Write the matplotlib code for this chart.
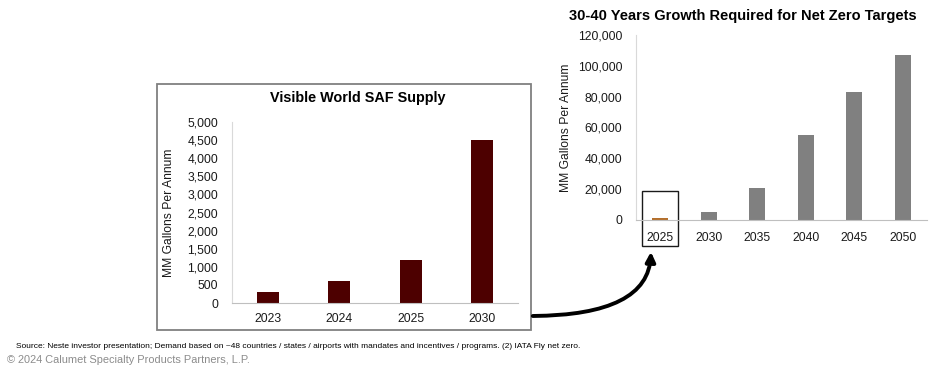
import matplotlib.pyplot as plt
from matplotlib.patches import Rectangle, FancyArrowPatch
from matplotlib.ticker import FuncFormatter
import matplotlib.transforms as mtransforms

plt.rcParams['font.family'] = ['Liberation Sans', 'DejaVu Sans']

# left chart: visible world SAF supply
supply_years = ["2023", "2024", "2025", "2030"]
supply_values = [300, 600, 1200, 4500]

# right chart: growth required for net zero
target_years = ["2025", "2030", "2035", "2040", "2045", "2050"]
target_values = [1200, 5000, 21000, 55000, 83000, 107000]
target_colors = ["#B46F2C", "#808080", "#808080", "#808080", "#808080", "#808080"]

W, H = 931, 385
fig = plt.figure(figsize=(W / 100, H / 100), dpi=100)


def px_axes(x0, y0, x1, y1):
    # pixel box (top-left origin) -> figure axes
    return fig.add_axes([x0 / W, 1 - y1 / H, (x1 - x0) / W, (y1 - y0) / H])


def style(ax, xpad):
    for s in ["top", "right"]:
        ax.spines[s].set_visible(False)
    ax.spines["left"].set_color("#D9D9D9")
    ax.spines["bottom"].set_color("#BFBFBF")
    ax.tick_params(length=0, labelsize=8.7, colors="#1a1a1a")
    ax.tick_params(axis="y", pad=10)
    ax.tick_params(axis="x", pad=xpad)
    ax.yaxis.set_major_formatter(FuncFormatter(lambda v, p: f"{int(v):,}"))


# frame around left chart
fig.patches.append(Rectangle((157 / W, 1 - 330 / H), (531 - 157) / W, (330 - 84) / H,
                             transform=fig.transFigure, fill=False,
                             edgecolor="#808080", lw=1.3))

ax1 = px_axes(232, 122, 518, 303)
ax1.bar(range(len(supply_years)), supply_values, width=0.31, color="#4D0000")
ax1.set_xticks(range(len(supply_years)), supply_years)
ax1.set_xlim(-0.5, len(supply_years) - 0.5)
ax1.set_ylim(0, 5000)
ax1.set_yticks(range(0, 5001, 500))
style(ax1, 7)
ax1.set_ylabel("MM Gallons Per Annum", fontsize=8.7, color="#1a1a1a", labelpad=9)
fig.text(358 / W, 1 - 98 / H, "Visible World SAF Supply", ha="center", va="center",
         fontsize=10.4, fontweight="bold")

ax2 = px_axes(636, 35, 927, 220)
ax2.bar(range(len(target_years)), target_values, width=0.32, color=target_colors)
ax2.set_xticks(range(len(target_years)), target_years)
ax2.set_xlim(-0.5, len(target_years) - 0.5)
ax2.set_ylim(0, 120000)
ax2.set_yticks(range(0, 120001, 20000))
style(ax2, 8.5)
ax2.set_ylabel("MM Gallons Per Annum", fontsize=8.7, color="#1a1a1a", labelpad=4)
fig.text(743 / W, 1 - 16 / H, "30-40 Years Growth Required for Net Zero Targets",
         ha="center", va="center", fontsize=10.5, fontweight="bold")

# highlight box around 2025
trans = mtransforms.blended_transform_factory(ax2.transData, ax2.transAxes)
ax2.add_patch(Rectangle((-0.37, -0.14), 0.74, 0.297, transform=trans, fill=False,
                        edgecolor="#1a1a1a", lw=1.0, clip_on=False))

# curved arrow from left chart to 2025 box
arrow = FancyArrowPatch((530 / W, 1 - 316 / H), (651 / W, 1 - 249 / H),
                        transform=fig.transFigure,
                        connectionstyle="angle3,angleA=0,angleB=90",
                        arrowstyle="-|>", mutation_scale=14, lw=2.8, color="black")
fig.patches.append(arrow)

fig.text(16 / W, 1 - 346 / H,
         "Source: Neste investor presentation; Demand based on ~48 countries / states / airports "
         "with mandates and incentives / programs. (2) IATA Fly net zero.",
         fontsize=6.05, va="center", ha="left", color="black")
fig.text(7 / W, 1 - 360 / H, "\u00a9 2024 Calumet Specialty Products Partners, L.P.",
         fontsize=7.9, va="center", ha="left", color="#8C8C8C")

fig.savefig("out.png", dpi=100)
